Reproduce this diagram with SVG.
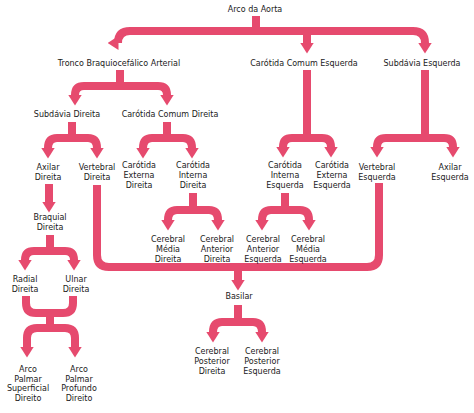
<svg xmlns="http://www.w3.org/2000/svg" width="474" height="413" viewBox="0 0 474 413">
<style>
text{font-family:"DejaVu Sans","Liberation Sans",sans-serif;font-size:8px;fill:#1a1a1a;text-anchor:middle}
.c{fill:none;stroke:#e64a6e;stroke-width:8;stroke-linejoin:round}
.a{marker-end:url(#ah)}
.b{marker-start:url(#ah);marker-end:url(#ah)}
</style>
<defs>
<marker id="ah" viewBox="0 0 11 14" refX="0.5" refY="7" markerWidth="11" markerHeight="14" markerUnits="userSpaceOnUse" orient="auto-start-reverse">
<path d="M0,0 L11,7 L0,14 z" fill="#e64a6e"/>
</marker>
</defs>
<rect width="474" height="413" fill="#fff"/>
<g id="connectors">
<path class="c" d="M256,16 V31"/>
<path class="c b" d="M118,43 V43 Q118,31 130,31 H413 Q425,31 425,43"/>
<path class="c a" d="M307,31 V43"/>
<path class="c" d="M120,70 V86"/>
<path class="c b" d="M75,95 Q75,86 84,86 H158 Q167,86 167,95"/>
<path class="c" d="M72,122 V138"/>
<path class="c b" d="M48,148 Q48,138 57,138 H88 Q97,138 97,148"/>
<path class="c" d="M167,122 V138"/>
<path class="c b" d="M143,148 Q143,138 152,138 H183 Q192,138 192,148"/>
<path class="c" d="M307,70 V138"/>
<path class="c b" d="M283,147 Q283,138 292,138 H322 Q331,138 331,147"/>
<path class="c" d="M425,70 V138"/>
<path class="c b" d="M377,147 Q377,138 386,138 H444 Q453,138 453,147"/>
<path class="c" d="M193,193 V210"/>
<path class="c b" d="M168,220 Q168,210 177,210 H209 Q218,210 218,220"/>
<path class="c" d="M285,193 V210"/>
<path class="c b" d="M262,220 Q262,210 271,210 H300 Q309,210 309,220"/>
<path class="c" d="M97,185 V255 Q97,267 109,267 H367 Q379,267 379,255 V183"/>
<path class="c a" d="M238,267 V280"/>
<path class="c" d="M238,305 V322"/>
<path class="c b" d="M213,332 Q213,322 222,322 H253 Q262,322 262,332"/>
<path class="c a" d="M49,184 V202"/>
<path class="c" d="M50,235 V251"/>
<path class="c b" d="M25,260 Q25,251 34,251 H65 Q74,251 74,260"/>
<path class="c" d="M26,296 V303 Q26,313 36,313 H63 Q73,313 73,303 V296"/>
<path class="c" d="M50,313 V328"/>
<path class="c b" d="M27,347 V338 Q27,328 37,328 H65 Q75,328 75,338 V347"/>
</g>
<g id="arco-aorta"><text x="255" y="12">Arco da Aorta</text></g>
<g id="tronco"><text x="119" y="66">Tronco Braquiocefálico Arterial</text></g>
<g id="carotida-comum-esq"><text x="304" y="66">Carótida Comum Esquerda</text></g>
<g id="subclavia-esq"><text x="422" y="66">Subdávia Esquerda</text></g>
<g id="subclavia-dir"><text x="67" y="117">Subdávia Direita</text></g>
<g id="carotida-comum-dir"><text x="170" y="117">Carótida Comum Direita</text></g>
<g id="axilar-dir"><text x="48" y="170">Axilar</text><text x="48" y="180">Direita</text></g>
<g id="vertebral-dir"><text x="97" y="170">Vertebral</text><text x="97" y="180">Direita</text></g>
<g id="carotida-ext-dir"><text x="139" y="168">Carótida</text><text x="139" y="178">Externa</text><text x="139" y="188">Direita</text></g>
<g id="carotida-int-dir"><text x="193" y="168">Carótida</text><text x="193" y="178">Interna</text><text x="193" y="188">Direita</text></g>
<g id="carotida-int-esq"><text x="285" y="168">Carótida</text><text x="285" y="178">Interna</text><text x="285" y="188">Esquerda</text></g>
<g id="carotida-ext-esq"><text x="332" y="168">Carótida</text><text x="332" y="178">Externa</text><text x="332" y="188">Esquerda</text></g>
<g id="vertebral-esq"><text x="377" y="170">Vertebral</text><text x="377" y="180">Esquerda</text></g>
<g id="axilar-esq"><text x="450" y="170">Axilar</text><text x="450" y="180">Esquerda</text></g>
<g id="cerebral-media-dir"><text x="168" y="242">Cerebral</text><text x="168" y="252">Média</text><text x="168" y="262">Direita</text></g>
<g id="cerebral-ant-dir"><text x="217" y="242">Cerebral</text><text x="217" y="252">Anterior</text><text x="217" y="262">Direita</text></g>
<g id="cerebral-ant-esq"><text x="263" y="242">Cerebral</text><text x="263" y="252">Anterior</text><text x="263" y="262">Esquerda</text></g>
<g id="cerebral-media-esq"><text x="308" y="242">Cerebral</text><text x="308" y="252">Média</text><text x="308" y="262">Esquerda</text></g>
<g id="basilar"><text x="239" y="299">Basilar</text></g>
<g id="cerebral-post-dir"><text x="212" y="354">Cerebral</text><text x="212" y="364">Posterior</text><text x="212" y="374">Direita</text></g>
<g id="cerebral-post-esq"><text x="262" y="354">Cerebral</text><text x="262" y="364">Posterior</text><text x="262" y="374">Esquerda</text></g>
<g id="braquial-dir"><text x="50" y="220">Braquial</text><text x="50" y="230">Direita</text></g>
<g id="radial-dir"><text x="25" y="282">Radial</text><text x="25" y="292">Direita</text></g>
<g id="ulnar-dir"><text x="76" y="282">Ulnar</text><text x="76" y="292">Direita</text></g>
<g id="arco-palmar-sup"><text x="28" y="372">Arco</text><text x="28" y="381.5">Palmar</text><text x="28" y="391">Superficial</text><text x="28" y="400.5">Direito</text></g>
<g id="arco-palmar-prof"><text x="79" y="372">Arco</text><text x="79" y="381.5">Palmar</text><text x="79" y="391">Profundo</text><text x="79" y="400.5">Direito</text></g>
</svg>
